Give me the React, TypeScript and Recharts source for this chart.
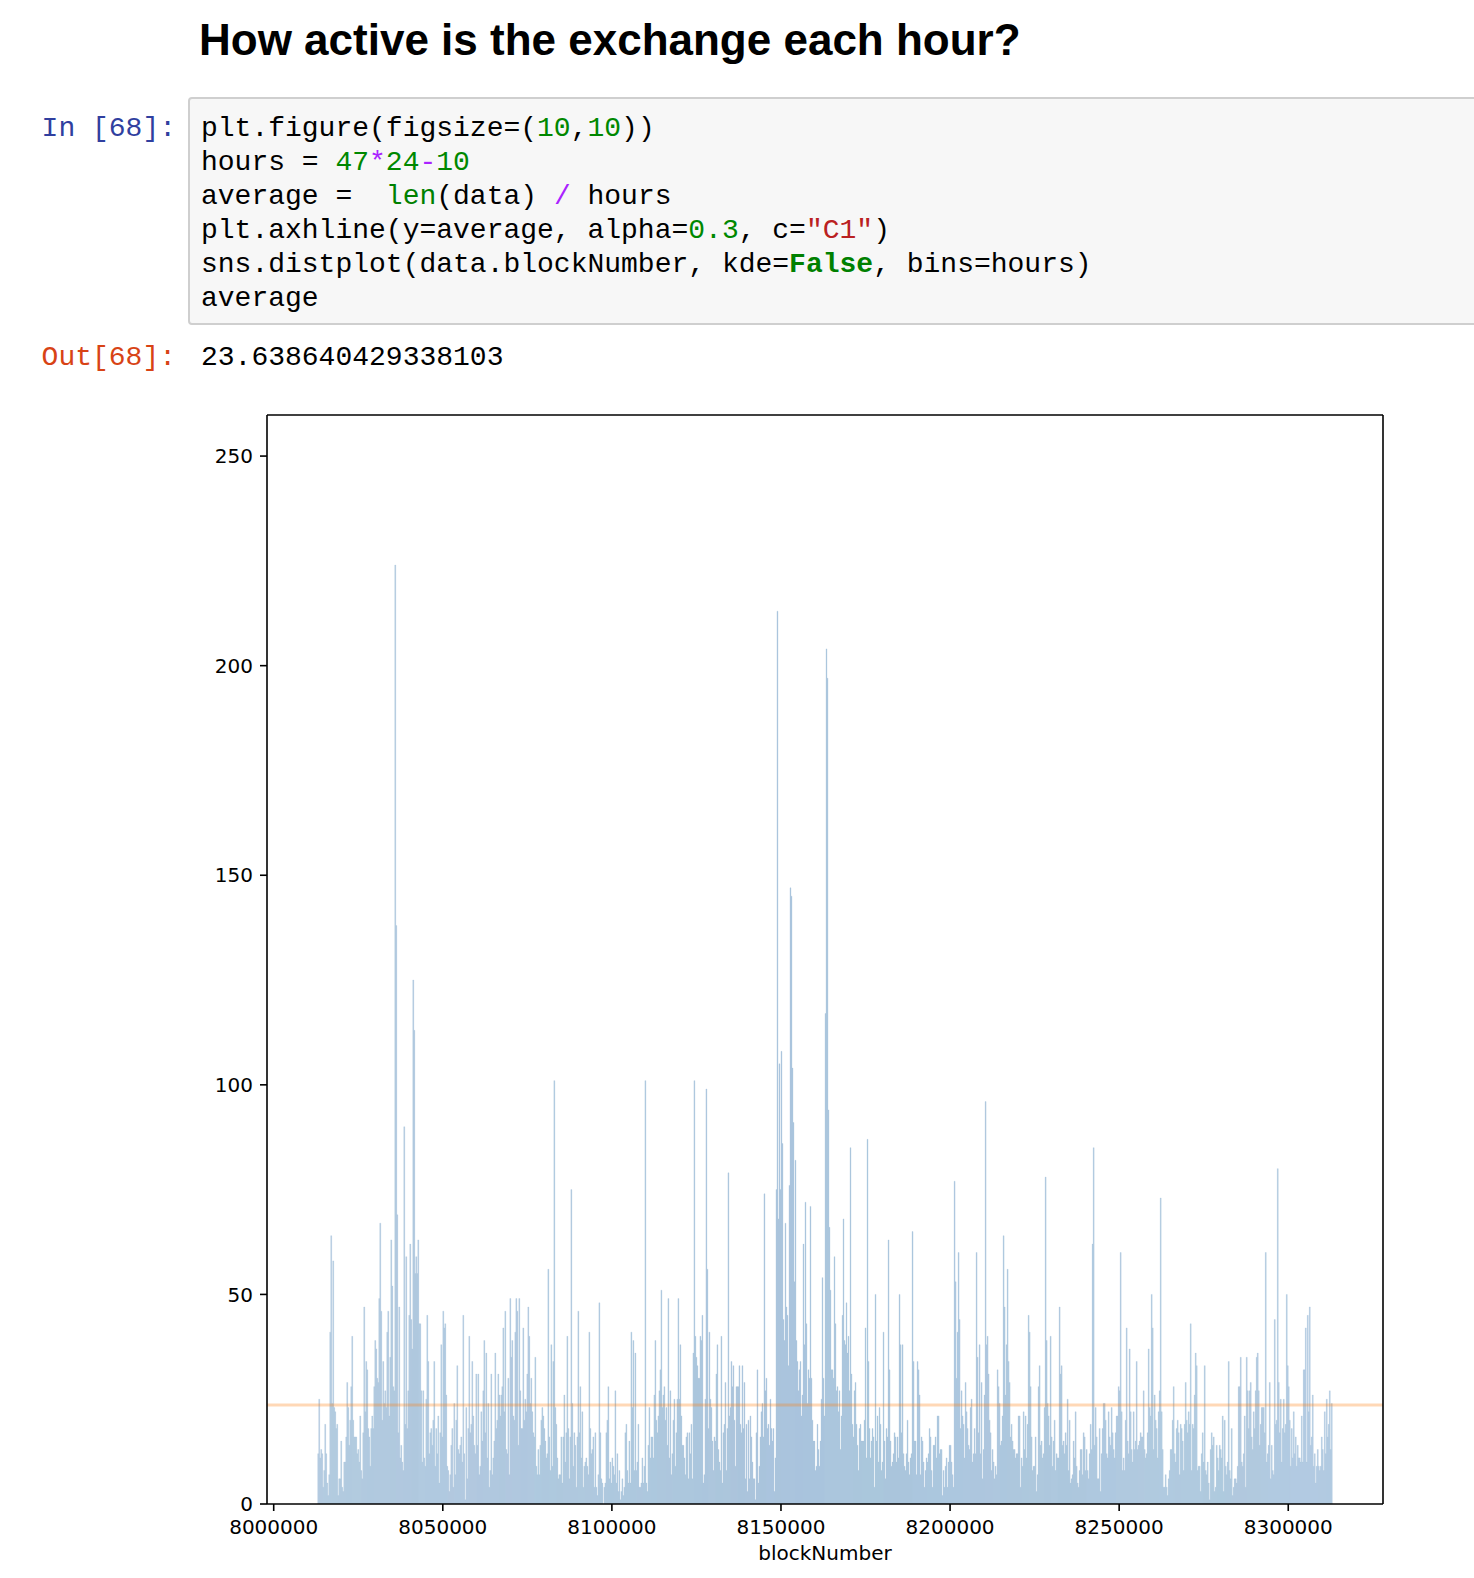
import React from "react";
import { BarChart, Bar, XAxis, YAxis, ReferenceLine } from "recharts";

// Hourly transaction counts left to right.
// Split by stretch of the block axis so each list stays readable.
const counts8013k = [
  12, 25, 11, 13, 12, 4, 8, 19, 12, 5, 2, 7, 41, 64, 24, 58, 23, 22, 18, 19,
  2, 6, 6, 15, 4, 3, 10, 10, 16, 29, 23, 14, 20, 28, 40, 20, 16, 16, 16, 12,
  13, 10, 21, 8, 6, 17, 47, 22, 34, 32, 18, 16, 9, 18, 21, 18, 28, 39, 37, 30,
  29, 49, 67, 46, 20, 34, 24, 27, 23, 41, 46, 21, 35, 63, 52, 28, 27, 224, 138, 69,
  17, 47, 11, 14, 10, 8, 90, 19, 59, 18, 27, 45, 62, 44, 37, 125, 113, 55, 59, 55,
  63, 43, 43, 27, 10, 27, 11,
];
const counts8045k = [
  9, 25, 45, 34, 12, 17, 18, 14, 20, 34, 9, 18, 12, 21, 5, 17, 38, 16, 46, 42,
  43, 26, 9, 8, 3, 7, 14, 18, 4, 24, 7, 20, 33, 13, 12, 14, 16, 10, 45, 12,
  1, 23, 6, 18, 40, 17, 19, 34, 21, 14, 12, 31, 14, 31, 7, 9, 22, 15, 27, 39,
  17, 36, 11, 24, 4, 8, 31, 7, 11, 15, 36, 18, 20, 31, 26, 21, 26, 28, 42, 22,
  46, 13, 12, 30, 7, 49, 35, 39, 21, 20, 41, 49, 46, 14, 49, 27, 18, 18, 42, 20,
  25, 22, 31, 47, 40, 24, 30, 22, 17, 16, 35, 9, 7, 13, 7,
];
const counts8079k = [
  14, 20, 23, 21, 18, 15, 11, 12, 56, 16, 8, 38, 9, 34, 101, 23, 19, 11, 6, 7,
  7, 16, 5, 16, 26, 10, 17, 40, 18, 6, 16, 75, 24, 9, 17, 14, 4, 16, 46, 17,
  28, 11, 22, 4, 9, 10, 11, 9, 7, 41, 18, 12, 13, 16, 4, 17, 4, 2, 7, 48,
  17, 6, 5, 0, 4, 5, 17, 20, 28, 6, 10, 5, 11, 9, 7, 27, 5, 12, 3, 8,
  1, 3, 6, 2, 4, 17, 19, 8, 5, 15, 5, 41, 23, 39, 8, 36, 8, 10, 19, 4,
  4, 5, 11, 5, 9, 101, 5, 3, 14, 23, 11, 16, 16, 11, 26,
];
const counts8113k = [
  39, 20, 17, 21, 27, 32, 51, 23, 26, 28, 20, 23, 14, 49, 11, 27, 7, 12, 20, 25,
  9, 17, 25, 49, 25, 38, 21, 14, 14, 11, 7, 16, 17, 6, 17, 12, 19, 6, 36, 101,
  40, 35, 33, 30, 30, 40, 39, 45, 5, 7, 25, 99, 56, 18, 41, 25, 23, 15, 8, 16,
  15, 31, 38, 13, 10, 8, 40, 5, 17, 19, 29, 8, 18, 79, 21, 23, 34, 28, 33, 20,
  9, 28, 28, 28, 33, 19, 17, 33, 18, 29, 6, 19, 3, 20, 6, 21, 16, 10, 6, 6,
  1, 17, 32, 5, 9, 16, 22, 24, 16, 74, 27, 30, 18, 19, 14,
];
const counts8147k = [
  25, 18, 15, 18, 3, 11, 75, 213, 68, 105, 75, 108, 86, 44, 39, 67, 47, 45, 33, 76,
  147, 145, 104, 91, 53, 82, 39, 34, 27, 32, 34, 21, 26, 62, 38, 72, 43, 24, 32, 30,
  71, 30, 20, 15, 15, 8, 9, 19, 13, 9, 15, 25, 54, 30, 21, 117, 204, 197, 94, 66,
  51, 32, 32, 30, 59, 43, 27, 28, 22, 27, 13, 21, 45, 68, 39, 38, 48, 36, 40, 27,
  85, 31, 19, 16, 27, 29, 19, 14, 8, 18, 19, 15, 15, 15, 20, 42, 11, 87, 34, 18,
  11, 15, 18, 16, 4, 50, 15, 21, 10, 23, 19, 8, 10, 41, 15,
];
const counts8181k = [
  6, 18, 16, 63, 32, 15, 9, 10, 12, 17, 16, 10, 16, 11, 50, 38, 17, 38, 12, 9,
  8, 12, 20, 10, 7, 11, 12, 65, 34, 15, 15, 7, 34, 32, 26, 7, 16, 15, 10, 4,
  8, 11, 10, 12, 18, 16, 8, 4, 14, 14, 16, 11, 21, 21, 12, 13, 13, 2, 8, 4,
  9, 11, 4, 10, 14, 14, 10, 7, 4, 77, 53, 30, 41, 60, 44, 18, 27, 21, 19, 11,
  29, 22, 18, 14, 13, 23, 25, 10, 12, 18, 12, 60, 35, 17, 38, 12, 29, 6, 13, 26,
  96, 38, 40, 31, 20, 17, 8, 13, 10, 6, 9, 7, 32, 28, 24,
];
const counts8215k = [
  14, 15, 21, 64, 47, 26, 38, 56, 34, 29, 16, 19, 15, 13, 13, 11, 12, 12, 21, 21,
  4, 11, 9, 22, 13, 21, 11, 19, 45, 41, 28, 16, 8, 9, 9, 16, 3, 7, 28, 33,
  14, 15, 11, 12, 23, 78, 39, 24, 21, 14, 40, 16, 9, 15, 20, 8, 12, 11, 11, 47,
  31, 33, 14, 15, 12, 17, 14, 25, 8, 20, 5, 6, 7, 15, 11, 22, 9, 5, 4, 8,
  13, 13, 7, 17, 16, 8, 13, 8, 6, 12, 19, 13, 62, 85, 14, 23, 16, 6, 6, 18,
  3, 12, 18, 24, 24, 20, 12, 11, 22, 16, 14, 23, 17, 13, 11,
];
const counts8249k = [
  17, 21, 21, 28, 27, 60, 22, 8, 11, 8, 20, 42, 15, 12, 37, 22, 13, 10, 22, 13,
  15, 34, 13, 14, 15, 17, 16, 16, 27, 13, 11, 12, 17, 37, 23, 21, 50, 42, 13, 26,
  20, 18, 11, 22, 27, 73, 22, 13, 4, 4, 7, 4, 2, 6, 8, 13, 13, 20, 28, 12,
  10, 18, 20, 17, 7, 19, 18, 15, 8, 19, 29, 20, 17, 22, 19, 43, 8, 19, 18, 26,
  36, 33, 8, 9, 9, 3, 12, 17, 10, 33, 8, 7, 10, 5, 1, 13, 17, 14, 16, 3,
  4, 14, 11, 8, 14, 13, 11, 21, 3, 20, 9, 7, 10, 34, 8,
];
const counts8283k = [
  6, 18, 2, 4, 6, 6, 5, 9, 28, 28, 35, 10, 9, 12, 21, 4, 35, 27, 18, 27,
  29, 16, 13, 22, 18, 27, 35, 36, 27, 14, 19, 23, 23, 23, 17, 60, 10, 12, 14, 29,
  6, 14, 8, 7, 44, 19, 20, 80, 29, 17, 25, 10, 18, 25, 17, 19, 50, 33, 28, 20,
  9, 18, 11, 22, 12, 16, 9, 14, 11, 11, 10, 21, 10, 32, 32, 42, 10, 45, 22, 47,
  14, 16, 26, 9, 12, 5, 9, 13, 9, 8, 9, 16, 13, 8, 22, 12, 25, 16, 19, 27,
  13, 24,
];

const counts = [
  ...counts8013k, ...counts8045k, ...counts8079k, ...counts8113k, ...counts8147k,
  ...counts8181k, ...counts8215k, ...counts8249k, ...counts8283k,
];

const firstBlock = 8013018;
const lastBlock = 8313018;
const average = 23.638640429338103;
const xTicks = [8000000, 8050000, 8100000, 8150000, 8200000, 8250000, 8300000];
const yTicks = [0, 50, 100, 150, 200, 250];
const xDomain: [number, number] = [7998018, 8328018];
const yMax = 259.8;

const binWidth = (lastBlock - firstBlock) / counts.length;
const data = counts.map((c, i) => ({ block: firstBlock + (i + 0.5) * binWidth, count: c }));

const BAR_COLOR = "#abc6de";

// notebook code cell, token by token
const NUM = "#008800";
const OP = "#AA22FF";
const STR = "#BA2121";
const BUILTIN = "#008000";
type Tok = [string, string?, boolean?];
const codeLines: Tok[][] = [
  [["plt.figure(figsize=("], ["10", NUM], [","], ["10", NUM], ["))"]],
  [["hours = "], ["47", NUM], ["*", OP], ["24", NUM], ["-", OP], ["10", NUM]],
  [["average =  "], ["len", BUILTIN], ["(data) "], ["/", OP], [" hours"]],
  [["plt.axhline(y=average, alpha="], ["0.3", NUM], [", c="], ['"C1"', STR], [")"]],
  [["sns.distplot(data.blockNumber, kde="], ["False", BUILTIN, true], [", bins=hours)"]],
  [["average"]],
];

const mono = '"Liberation Mono", "Courier New", monospace';
const tickStyle = { fill: "#000", fontSize: 20, fontFamily: "DejaVu Sans" };

export default function App() {
  return (
    <div
      style={{
        position: "absolute", left: 0, top: 0, width: 1474, height: 1578,
        overflow: "hidden", background: "#fff",
      }}
    >
      <div
        style={{
          position: "absolute", left: 199, top: 18, fontFamily: '"Liberation Sans", Arial, sans-serif',
          fontWeight: 700, fontSize: 44, lineHeight: "44px", color: "#000", whiteSpace: "nowrap",
        }}
      >
        How active is the exchange each hour?
      </div>

      <div
        style={{
          position: "absolute", left: 0, top: 112, width: 176, textAlign: "right",
          fontFamily: mono, fontSize: 28, lineHeight: "34px", color: "#303F9F", whiteSpace: "pre",
        }}
      >
        In [68]:
      </div>
      <div
        style={{
          position: "absolute", left: 188, top: 97, width: 1300, height: 228, boxSizing: "border-box",
          border: "2px solid #cfcfcf", borderRadius: 4, background: "#f7f7f7",
        }}
      />
      <div
        style={{
          position: "absolute", left: 201, top: 112, fontFamily: mono, fontSize: 28,
          lineHeight: "34px", color: "#000", whiteSpace: "pre",
        }}
      >
        {codeLines.map((line, i) => (
          <div key={i}>
            {line.map(([t, c, b], j) => (
              <span key={j} style={{ color: c ?? "#000", fontWeight: b ? 700 : 400 }}>{t}</span>
            ))}
          </div>
        ))}
      </div>

      <div
        style={{
          position: "absolute", left: 0, top: 341, width: 176, textAlign: "right",
          fontFamily: mono, fontSize: 28, lineHeight: "34px", color: "#D84315", whiteSpace: "pre",
        }}
      >
        Out[68]:
      </div>
      <div
        style={{
          position: "absolute", left: 201, top: 341, fontFamily: mono, fontSize: 28,
          lineHeight: "34px", color: "#000", whiteSpace: "pre",
        }}
      >
        {String(average)}
      </div>

      <div style={{ position: "absolute", left: 0, top: 380 }}>
        <BarChart
          width={1474}
          height={1198}
          data={data}
          margin={{ top: 35, right: 91, bottom: 0, left: 0 }}
          barCategoryGap={0}
          barGap={0}
          style={{ fontFamily: "DejaVu Sans" }}
        >
          <XAxis
            dataKey="block"
            type="number"
            domain={xDomain}
            ticks={xTicks}
            interval={0}
            allowDataOverflow
            height={74}
            tickSize={7}
            tickMargin={9}
            tick={tickStyle}
            axisLine={{ stroke: "#000", strokeWidth: 1.6 }}
            tickLine={{ stroke: "#000", strokeWidth: 1.6 }}
            label={{ value: "blockNumber", position: "insideBottom", offset: 18, fill: "#000", fontSize: 20, fontFamily: "DejaVu Sans" }}
          />
          <YAxis
            type="number"
            domain={[0, yMax]}
            ticks={yTicks}
            interval={0}
            allowDataOverflow
            width={267}
            tickSize={7}
            tickMargin={7}
            tick={tickStyle}
            axisLine={{ stroke: "#000", strokeWidth: 1.6 }}
            tickLine={{ stroke: "#000", strokeWidth: 1.6 }}
          />
          <Bar
            dataKey="count"
            fill={BAR_COLOR}
            stroke={BAR_COLOR}
            strokeWidth={0.3}
            isAnimationActive={false}
          />
          <ReferenceLine y={average} stroke="#ff7f0e" strokeOpacity={0.3} strokeWidth={3} />
          <ReferenceLine y={yMax} stroke="#000" strokeWidth={1.6} />
          <ReferenceLine x={xDomain[1]} stroke="#000" strokeWidth={1.6} />
        </BarChart>
      </div>
    </div>
  );
}
